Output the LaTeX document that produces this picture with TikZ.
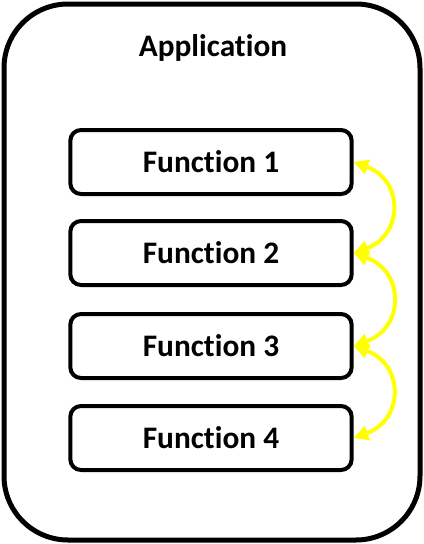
\documentclass[tikz,border=0pt]{standalone}
\usepackage{fontspec}
\setmainfont{Carlito}[Ligatures=NoCommon]
\usetikzlibrary{arrows.meta}
\definecolor{arrowyellow}{RGB}{255,255,0}
\tikzset{
	funcbox/.style={draw, line width=3pt, rounded corners=8pt, minimum width=211pt, minimum height=48pt, inner sep=0pt, font=\fontsize{23.5}{28}\selectfont\bfseries},
	swap/.style={draw=arrowyellow, line width=3pt, {Triangle[length=11pt,width=11pt]}-{Triangle[length=11pt,width=11pt]}, bend left=70, looseness=1.5}
}
\begin{document}
\begin{tikzpicture}[x=0.75pt, y=-0.75pt]
				\useasboundingbox (0, 0) rectangle (424, 544);
				\draw[line width=3.75pt, rounded corners=48pt] (4, 4) rectangle (420, 540);
				\node[font=\fontsize{23.5}{28}\selectfont\bfseries] (app) at (213, 48) {Application};
				
				\node[funcbox] (F1) at (211, 162) {Function 1};
				\node[funcbox] (F2) at (211, 253) {Function 2};
				\node[funcbox] (F3) at (211, 346) {Function 3};
				\node[funcbox] (F4) at (211, 438) {Function 4};
				
				\draw[swap] (F1.east) to (F2.east);
				\draw[swap] (F2.east) to (F3.east);
				\draw[swap] (F3.east) to (F4.east);
				\end{tikzpicture}
\end{document}
